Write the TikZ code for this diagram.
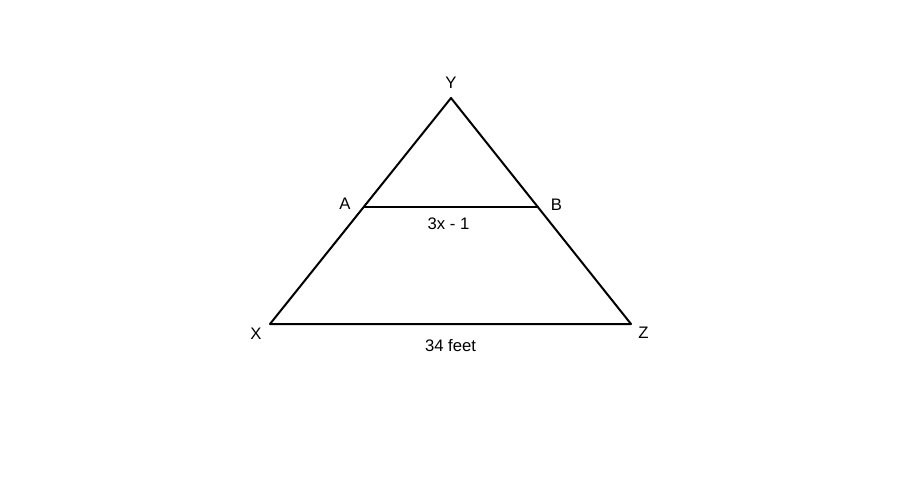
\documentclass[tikz,border=0pt]{standalone}
\usepackage{fontspec}
\setmainfont{Liberation Sans}
\begin{document}
\begin{tikzpicture}[x=0.75pt,y=-0.75pt,line join=round,line cap=round,line width=1.5pt]
			\tikzset{label style/.style={font=\fontsize{12.5}{15}\selectfont,inner sep=0pt}}
			\useasboundingbox (0,0) rectangle (917,502);
			\coordinate (X) at (270,324);
			\coordinate (Y) at (451,98);
			\coordinate (Z) at (631,324);
			\coordinate (A) at (364,207);
			\coordinate (B) at (538,207);
			\draw (X)--(Y)--(Z)--cycle;
			\draw (A)--(B);
			\node[label style] (lY) at (451,82.5) {Y};
			\node[label style] (lA) at (345,203.5) {A};
			\node[label style] (lB) at (556.5,204.5) {B};
			\node[label style] (lX) at (256,334) {X};
			\node[label style] (lZ) at (643.5,333) {Z};
			\node[label style] (lAB) at (448.5,223.5) {3x - 1};
			\node[label style] (lXZ) at (450.5,345.5) {34 feet};
	\end{tikzpicture}
\end{document}
